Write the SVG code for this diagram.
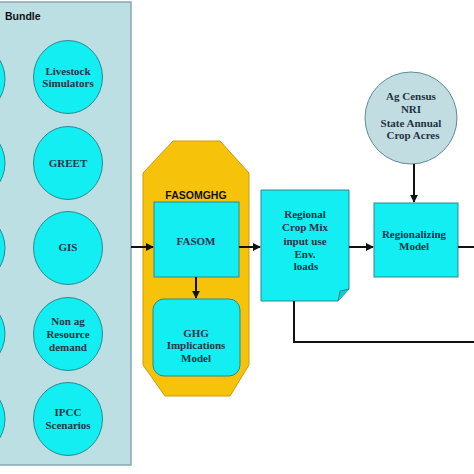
<svg xmlns="http://www.w3.org/2000/svg" width="474" height="474" viewBox="0 0 474 474">
<defs>
<style>
.lbl{font-family:"Liberation Serif","Times New Roman",serif;font-weight:bold;font-size:11px;fill:#1f3344;text-anchor:middle}
.sans{font-family:"Liberation Sans",Arial,sans-serif;font-weight:bold;font-size:10.5px;fill:#111}
.cyan{fill:#12eef2;stroke:#2a8a90;stroke-width:1}
.gray{fill:#c2dde1;stroke:#5f8d93;stroke-width:1}
.conn{fill:none;stroke:#111;stroke-width:2}
</style>
<marker id="ah" viewBox="0 0 10 10" refX="9" refY="5" markerWidth="4" markerHeight="4" orient="auto" markerUnits="strokeWidth">
<path d="M0,0 L10,5 L0,10 z" fill="#111"/>
</marker>
</defs>
<rect width="474" height="474" fill="#ffffff"/>

<g id="bundle">
<rect x="-5" y="2" width="136" height="463" fill="#bcdfe4" stroke="#8aa7ae" stroke-width="1.5"/>
<text class="sans" x="5" y="20" font-size="11">Bundle</text>
</g>

<g id="left-circles">
<ellipse class="cyan" cx="-29" cy="79" rx="34" ry="36"/>
<ellipse class="cyan" cx="-29" cy="163" rx="34" ry="36"/>
<ellipse class="cyan" cx="-29" cy="248" rx="34" ry="36"/>
<ellipse class="cyan" cx="-29" cy="334" rx="34" ry="36"/>
<ellipse class="cyan" cx="-29" cy="419" rx="34" ry="36"/>
</g>

<g id="livestock">
<ellipse class="cyan" cx="68" cy="77" rx="34.5" ry="36.5"/>
<text class="lbl" x="68" y="75">Livestock</text>
<text class="lbl" x="68" y="87">Simulators</text>
</g>
<g id="greet">
<ellipse class="cyan" cx="68" cy="163" rx="34.5" ry="36.5"/>
<text class="lbl" x="68" y="167">GREET</text>
</g>
<g id="gis">
<ellipse class="cyan" cx="68" cy="248" rx="34.5" ry="36.5"/>
<text class="lbl" x="68" y="251">GIS</text>
</g>
<g id="nonag">
<ellipse class="cyan" cx="68" cy="334" rx="34.5" ry="36.5"/>
<text class="lbl" x="68" y="325">Non ag</text>
<text class="lbl" x="68" y="338">Resource</text>
<text class="lbl" x="68" y="351">demand</text>
</g>
<g id="ipcc">
<ellipse class="cyan" cx="68" cy="419" rx="34.5" ry="36.5"/>
<text class="lbl" x="68" y="416">IPCC</text>
<text class="lbl" x="68" y="429">Scenarios</text>
</g>

<g id="fasomghg">
<polygon points="173,141 220,141 249,173 249,365 230,396 165,396 143,365 143,173" fill="#f7c20a" stroke="#c99c10" stroke-width="1"/>
<text class="sans" x="196" y="199" text-anchor="middle">FASOMGHG</text>
</g>
<g id="fasom">
<rect class="cyan" x="154" y="202" width="85" height="75"/>
<text class="lbl" x="196" y="245">FASOM</text>
</g>
<g id="ghg">
<rect class="cyan" x="153" y="299" width="87" height="77" rx="11"/>
<text class="lbl" x="196" y="337">GHG</text>
<text class="lbl" x="196" y="349">Implications</text>
<text class="lbl" x="196" y="362">Model</text>
</g>

<g id="regional">
<path class="cyan" d="M261,190 H349 V289 L338,301 H261 Z"/>
<path d="M338,301 L340,291 L349,289" fill="#17c8cf" stroke="#2a8a90" stroke-width="1"/>
<text class="lbl" x="305" y="218">Regional</text>
<text class="lbl" x="305" y="231">Crop Mix</text>
<text class="lbl" x="305" y="245">input use</text>
<text class="lbl" x="305" y="258">Env.</text>
<text class="lbl" x="306" y="270">loads</text>
</g>

<g id="regionalizing">
<rect class="cyan" x="374" y="203" width="84" height="74"/>
<text class="lbl" x="414" y="238">Regionalizing</text>
<text class="lbl" x="414" y="250">Model</text>
</g>

<g id="agcensus">
<circle class="gray" cx="411" cy="118" r="46"/>
<text class="lbl" x="411" y="100">Ag Census</text>
<text class="lbl" x="411" y="113">NRI</text>
<text class="lbl" x="411" y="127">State Annual</text>
<text class="lbl" x="413" y="139">Crop Acres</text>
</g>

<g id="connectors">
<line class="conn" x1="131" y1="247" x2="153" y2="247" marker-end="url(#ah)"/>
<line class="conn" x1="196" y1="277" x2="196" y2="298" marker-end="url(#ah)"/>
<line class="conn" x1="239" y1="247" x2="260" y2="247" marker-end="url(#ah)"/>
<line class="conn" x1="349" y1="247" x2="373" y2="247" marker-end="url(#ah)"/>
<line class="conn" x1="414" y1="164" x2="414" y2="202" marker-end="url(#ah)"/>
<line class="conn" x1="458" y1="247" x2="474" y2="247"/>
<polyline class="conn" points="294,301 294,342 474,342"/>
</g>
</svg>
